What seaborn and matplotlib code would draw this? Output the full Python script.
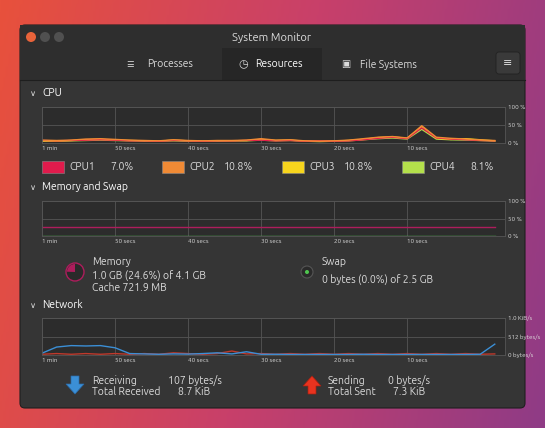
import numpy as np
import pandas as pd
import matplotlib
matplotlib.use('Agg')
import matplotlib.pyplot as plt
import seaborn as sns
from matplotlib.patches import Rectangle, Circle, Wedge, Polygon, FancyBboxPatch

# seconds ago, one sample every 2 s
secs = np.arange(62, -4, -2)
cpu1 = [8, 7, 6, 7, 8, 9, 8, 6, 6, 5, 7, 6, 5, 6, 6, 7, 8, 6, 7, 5, 6, 5, 6, 9, 13, 16, 12, 42, 14, 11, 9, 7, 6]
cpu2 = [9, 8, 7, 8, 11, 12, 10, 8, 7, 6, 9, 7, 6, 7, 7, 8, 12, 8, 9, 6, 5, 6, 8, 12, 16, 18, 14, 48, 16, 13, 11, 8, 7]
cpu3 = [7, 6, 5, 7, 9, 10, 8, 7, 6, 5, 8, 6, 5, 6, 6, 7, 10, 7, 8, 5, 5, 5, 7, 10, 15, 17, 13, 45, 13, 10, 12, 9, 6]
cpu4 = [6, 5, 5, 6, 7, 8, 7, 6, 5, 5, 6, 5, 5, 5, 6, 6, 8, 6, 7, 5, 4, 5, 6, 9, 12, 14, 11, 38, 11, 9, 8, 7, 5]
cpu_names = ['CPU1', 'CPU2', 'CPU3', 'CPU4']
cpu_now = ['7.0%', '10.8%', '10.8%', '8.1%']
cpu_colors = ['#e01b4c', '#f08a35', '#f7d51d', '#b4e04b']
mem = [24.6] * len(secs)
swap = [0.0] * len(secs)
recv = [60, 50, 220, 260, 250, 260, 200, 40, 30, 20, 30, 25, 40, 60, 30, 90, 20, 20, 15, 15, 15, 15, 15, 20, 15, 15, 15, 15, 15, 15, 15, 20, 300]
sent = [30, 20, 40, 20, 40, 20, 40, 20, 40, 20, 60, 40, 20, 40, 110, 30, 40, 20, 40, 20, 40, 20, 40, 20, 40, 20, 40, 20, 40, 20, 40, 20, 30]
xlabels = ['1 min', '50 secs', '40 secs', '30 secs', '20 secs', '10 secs']

W, H = 545, 428
fig = plt.figure(figsize=(5.45, 4.28), dpi=100)
plt.rcParams['font.family'] = ['Ubuntu', 'DejaVu Sans']
txt = '#dcdcdc'

bg = fig.add_axes([0, 0, 1, 1])
gx, gy = np.meshgrid(np.linspace(0, 1, 200), np.linspace(0, 1, 200))
grad = np.clip(gx * 0.85 + gy * 0.15, 0, 1)
cmap = matplotlib.colors.LinearSegmentedColormap.from_list('u', ['#e8513c', '#c8406a', '#8f3b86'])
bg.imshow(grad, cmap=cmap, extent=[0, W, H, 0], aspect='auto')
bg.set_xlim(0, W)
bg.set_ylim(H, 0)
bg.axis('off')

bg.add_patch(FancyBboxPatch((20, 25), 505, 383, boxstyle='round,pad=0,rounding_size=5', fc='#353535', ec='#1f1f1f', lw=0.8))
bg.add_patch(Rectangle((20, 25), 505, 55, fc='#2e2e2e', ec='none'))
bg.add_patch(Rectangle((222, 48), 100, 32, fc='#262626', ec='none'))
bg.plot([20, 525], [80, 80], color='#1e1e1e', lw=0.8)
bg.add_patch(Circle((31, 37), 5, fc='#e9633a', ec='none'))
bg.add_patch(Circle((45, 37), 5, fc='#505050', ec='none'))
bg.add_patch(Circle((59, 37), 5, fc='#505050', ec='none'))
bg.text(272, 37, 'System Monitor', color=txt, fontsize=8, ha='center', va='center')
bg.text(130, 64, '\u2630', color=txt, fontsize=6, ha='center', va='center')
bg.text(147, 64, 'Processes', color=txt, fontsize=7.5, va='center')
bg.text(243, 64, '\u25F7', color=txt, fontsize=8, ha='center', va='center')
bg.text(255, 64, 'Resources', color='white', fontsize=7.5, va='center', weight='bold')
bg.text(346, 64, '\u25A3', color=txt, fontsize=7, ha='center', va='center')
bg.text(360, 64, 'File Systems', color=txt, fontsize=7.5, va='center')
bg.add_patch(FancyBboxPatch((496, 52), 24, 22, boxstyle='round,pad=0,rounding_size=3', fc='#3a3a3a', ec='#222', lw=0.6))
bg.text(508, 63, '\u2261', color=txt, fontsize=8, ha='center', va='center')

for y, name in [(93, 'CPU'), (187, 'Memory and Swap'), (305, 'Network')]:
    bg.text(30, y, '\u2228', color=txt, fontsize=6, va='center')
    bg.text(42, y, name, color='white', fontsize=7.5, va='center', weight='bold')

for i in range(4):
    x0 = 42 + i * 120
    bg.add_patch(Rectangle((x0, 161), 22, 12, fc=cpu_colors[i], ec='#888', lw=0.4))
    bg.text(x0 + 27, 167, cpu_names[i], color=txt, fontsize=7.5, va='center')
    bg.text(x0 + 68 if i in (0, 3) else x0 + 62, 167, cpu_now[i], color=txt, fontsize=7.5, va='center')

bg.add_patch(Circle((75, 272), 9, fc='#2a2a2a', ec='#ad1d5c', lw=1))
bg.add_patch(Wedge((75, 272), 8, -90 - 88, -90, fc='#ad1d5c', ec='none'))
bg.text(92, 262, 'Memory', color=txt, fontsize=7.5, va='center')
bg.text(92, 275, '1.0 GB (24.6%) of 4.1 GB', color=txt, fontsize=7.5, va='center')
bg.text(92, 288, 'Cache 721.9 MB', color=txt, fontsize=7.5, va='center')
bg.add_patch(Circle((307, 272), 6, fc='#2a2a2a', ec='#555', lw=0.8))
bg.add_patch(Circle((307, 272), 2, fc='#4fc64f', ec='none'))
bg.text(322, 262, 'Swap', color=txt, fontsize=7.5, va='center')
bg.text(322, 279, '0 bytes (0.0%) of 2.5 GB', color=txt, fontsize=7.5, va='center')

bg.add_patch(Polygon([[71, 376], [79, 376], [79, 384], [84, 384], [75, 394], [66, 384], [71, 384]], fc='#3b8fd6', ec='#2a6aa8', lw=0.5))
bg.add_patch(Polygon([[308, 394], [316, 394], [316, 386], [321, 386], [312, 376], [303, 386], [308, 386]], fc='#e8331f', ec='#a92010', lw=0.5))
bg.text(92, 380, 'Receiving', color=txt, fontsize=7.5, va='center')
bg.text(168, 380, '107 bytes/s', color=txt, fontsize=7.5, va='center')
bg.text(92, 392, 'Total Received', color=txt, fontsize=7.5, va='center')
bg.text(178, 392, '8.7 KiB', color=txt, fontsize=7.5, va='center')
bg.text(328, 380, 'Sending', color=txt, fontsize=7.5, va='center')
bg.text(388, 380, '0 bytes/s', color=txt, fontsize=7.5, va='center')
bg.text(328, 392, 'Total Sent', color=txt, fontsize=7.5, va='center')
bg.text(393, 392, '7.3 KiB', color=txt, fontsize=7.5, va='center')


def graph(top, bottom, series, colors, ymax, ylabels):
    ax = fig.add_axes([42 / W, 1 - bottom / H, (505 - 42) / W, (bottom - top) / H])
    ax.set_facecolor('#2c2c2c')
    for vals, c in zip(series, colors):
        sns.lineplot(x=secs, y=vals, color=c, lw=1, ax=ax)
    ax.set_xlim(60, -3.4)
    ax.set_ylim(0, ymax)
    ax.set_xticks([60, 50, 40, 30, 20, 10])
    ax.set_xticklabels(xlabels, ha='left', fontsize=4.5, color=txt)
    ax.set_yticks([0, ymax / 2, ymax])
    ax.set_yticklabels(ylabels, fontsize=4.5, color=txt)
    ax.yaxis.tick_right()
    ax.tick_params(length=0, pad=2)
    ax.grid(True, color='#555555', lw=0.6)
    for s in ax.spines.values():
        s.set_color('#555555')
        s.set_linewidth(0.6)
    ax.set_xlabel('')
    ax.set_ylabel('')
    return ax


graph(107, 143, [cpu4, cpu3, cpu1, cpu2], [cpu_colors[3], cpu_colors[2], cpu_colors[0], cpu_colors[1]], 100, ['0 %', '50 %', '100 %'])
graph(201, 236, [swap, mem], ['#4fc64f', '#ad1d5c'], 100, ['0 %', '50 %', '100 %'])
graph(318, 355, [sent, recv], ['#c0392b', '#3b8fd6'], 1024, ['0 bytes/s', '512 bytes/s', '1.0 KiB/s'])

fig.savefig('out.png', dpi=100)
